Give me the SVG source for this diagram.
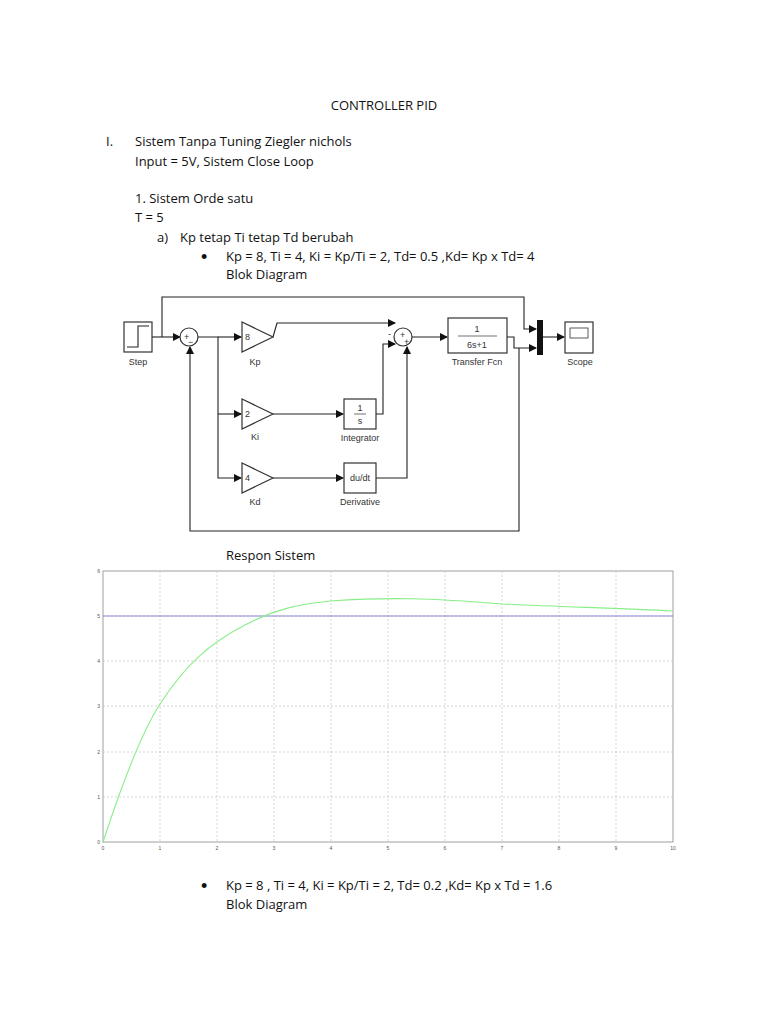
<svg xmlns="http://www.w3.org/2000/svg" width="768" height="1024" viewBox="0 0 768 1024">
<style>
.t{font-family:"Open Sans","Liberation Sans",sans-serif;font-size:13px;fill:#111}
.bu{font-family:"Liberation Sans",sans-serif;font-size:18px;fill:#111}
.s{font-family:"Liberation Sans",sans-serif;font-size:9px;fill:#333}
.b{fill:#fff;stroke:#333;stroke-width:1.2}
.w{fill:none;stroke:#222;stroke-width:1.1}
.g{stroke:#bbb;stroke-width:0.6;stroke-dasharray:2 2}
.ax{font-family:"Liberation Sans",sans-serif;font-size:5px;fill:#555}
</style>
<defs><marker id="a" markerWidth="8" markerHeight="8" refX="7" refY="4" orient="auto" markerUnits="userSpaceOnUse"><path d="M0,0 L8,4 L0,8z" fill="#111"/></marker></defs>
<rect width="768" height="1024" fill="#fff"/>
<g id="text">
<text class="t" x="384" y="110" text-anchor="middle" font-size="14">CONTROLLER PID</text>
<text class="t" x="106" y="146">I.</text>
<text class="t" x="135" y="146">Sistem Tanpa Tuning Ziegler nichols</text>
<text class="t" x="135" y="166">Input = 5V, Sistem Close Loop</text>
<text class="t" x="135" y="203">1. Sistem Orde satu</text>
<text class="t" x="135" y="222">T = 5</text>
<text class="t" x="157" y="242">a)</text>
<text class="t" x="180" y="242">Kp tetap Ti tetap Td berubah</text>
<text class="bu" x="201" y="263">•</text>
<text class="t" x="226" y="261">Kp = 8, Ti = 4, Ki = Kp/Ti = 2, Td= 0.5 ,Kd= Kp x Td= 4</text>
<text class="t" x="226" y="279">Blok Diagram</text>
<text class="t" x="226" y="560">Respon Sistem</text>
<text class="bu" x="201" y="892">•</text>
<text class="t" x="226" y="890">Kp = 8 , Ti = 4, Ki = Kp/Ti = 2, Td= 0.2 ,Kd= Kp x Td = 1.6</text>
<text class="t" x="226" y="909">Blok Diagram</text>
</g>
<g id="connectors">
<path class="w" d="M152,337 H180" marker-end="url(#a)"/>
<path class="w" d="M162,337 V297 H524 V329 H536" marker-end="url(#a)"/>
<path class="w" d="M198,337 H218 V478 H241" marker-end="url(#a)"/>
<path class="w" d="M218,337 H241" marker-end="url(#a)"/>
<path class="w" d="M218,414 H241" marker-end="url(#a)"/>
<path class="w" d="M273,337 L277,323 H395" marker-end="url(#a)"/>
<path class="w" d="M273,414 H343" marker-end="url(#a)"/>
<path class="w" d="M273,478 H343" marker-end="url(#a)"/>
<path class="w" d="M376,414 H383 V344 H395" marker-end="url(#a)"/>
<path class="w" d="M376,478 H407 V347" marker-end="url(#a)"/>
<path class="w" d="M412,337 H447" marker-end="url(#a)"/>
<path class="w" d="M507,337 H514 V348 H536" marker-end="url(#a)"/>
<path class="w" d="M519,348 V531 H190 V347" marker-end="url(#a)"/>
<path class="w" d="M543,337 H564" marker-end="url(#a)"/>
</g>
<g id="step"><rect class="b" x="124" y="322" width="28" height="30"/><path class="w" d="M127,347 H138 V326 H149"/><text class="s" x="138" y="365" text-anchor="middle">Step</text></g>
<g id="sum1"><circle class="b" cx="189" cy="337" r="9"/><text class="s" x="184" y="340" font-size="8">+</text><text class="s" x="188" y="345" font-size="8">−</text></g>
<g id="kp"><path class="b" d="M242,322 L273,337 L242,352z"/><text class="s" x="245" y="340">8</text><text class="s" x="255" y="365" text-anchor="middle">Kp</text></g>
<g id="ki"><path class="b" d="M242,399 L273,414 L242,429z"/><text class="s" x="245" y="417">2</text><text class="s" x="255" y="440" text-anchor="middle">Ki</text></g>
<g id="kd"><path class="b" d="M242,463 L273,478 L242,493z"/><text class="s" x="245" y="481">4</text><text class="s" x="255" y="505" text-anchor="middle">Kd</text></g>
<g id="integrator"><rect class="b" x="344" y="399" width="32" height="30"/><text class="s" x="360" y="411" text-anchor="middle">1</text><line x1="354" y1="414" x2="366" y2="414" stroke="#333" stroke-width="0.7"/><text class="s" x="360" y="424" text-anchor="middle">s</text><text class="s" x="360" y="441" text-anchor="middle">Integrator</text></g>
<g id="derivative"><rect class="b" x="344" y="463" width="32" height="30"/><text class="s" x="360" y="481" text-anchor="middle" font-size="8">du/dt</text><text class="s" x="360" y="505" text-anchor="middle">Derivative</text></g>
<g id="sum2"><circle class="b" cx="403" cy="337" r="9"/><text class="s" x="388" y="337" font-size="8">-</text><text class="s" x="400" y="338" font-size="8">+</text><text class="s" x="404" y="345" font-size="8">+</text></g>
<g id="tf"><rect class="b" x="448" y="318" width="59" height="35"/><text class="s" x="477" y="332" text-anchor="middle">1</text><line x1="458" y1="336" x2="497" y2="336" stroke="#333" stroke-width="0.7"/><text class="s" x="477" y="348" text-anchor="middle" font-size="7">6s+1</text><text class="s" x="477" y="365" text-anchor="middle">Transfer Fcn</text></g>
<g id="mux"><rect x="537" y="320" width="6" height="35" fill="#111"/></g>
<g id="scope"><rect class="b" x="565" y="322" width="28" height="31"/><rect x="570" y="328" width="18" height="10" fill="#fff" stroke="#333" stroke-width="0.8"/><text class="s" x="580" y="365" text-anchor="middle">Scope</text></g>
<g id="plot">
<rect x="103" y="571" width="570" height="271" fill="#fff" stroke="#888" stroke-width="0.8"/>
<g class="g"><path d="M160,571V842M217,571V842M274,571V842M331,571V842M388,571V842M445,571V842M502,571V842M559,571V842M616,571V842"/><path d="M103,616H673M103,661H673M103,706H673M103,752H673M103,797H673"/></g>
<line x1="103" y1="616" x2="673" y2="616" stroke="#8888dd" stroke-width="1.2"/>
<path d="M103,842 C120,790 140,735 160,704 C185,665 210,643 245,625 C275,609 300,604 330,601 C390,597 430,598 502,604 C560,607 620,608 673,611" fill="none" stroke="#88ee88" stroke-width="1.1"/>
<g class="ax"><text x="100" y="573" text-anchor="end">6</text><text x="100" y="618" text-anchor="end">5</text><text x="100" y="663" text-anchor="end">4</text><text x="100" y="708" text-anchor="end">3</text><text x="100" y="754" text-anchor="end">2</text><text x="100" y="799" text-anchor="end">1</text><text x="100" y="844" text-anchor="end">0</text>
<text x="103" y="850" text-anchor="middle">0</text><text x="160" y="850" text-anchor="middle">1</text><text x="217" y="850" text-anchor="middle">2</text><text x="274" y="850" text-anchor="middle">3</text><text x="331" y="850" text-anchor="middle">4</text><text x="388" y="850" text-anchor="middle">5</text><text x="445" y="850" text-anchor="middle">6</text><text x="502" y="850" text-anchor="middle">7</text><text x="559" y="850" text-anchor="middle">8</text><text x="616" y="850" text-anchor="middle">9</text><text x="673" y="850" text-anchor="middle">10</text></g>
</g>
</svg>
